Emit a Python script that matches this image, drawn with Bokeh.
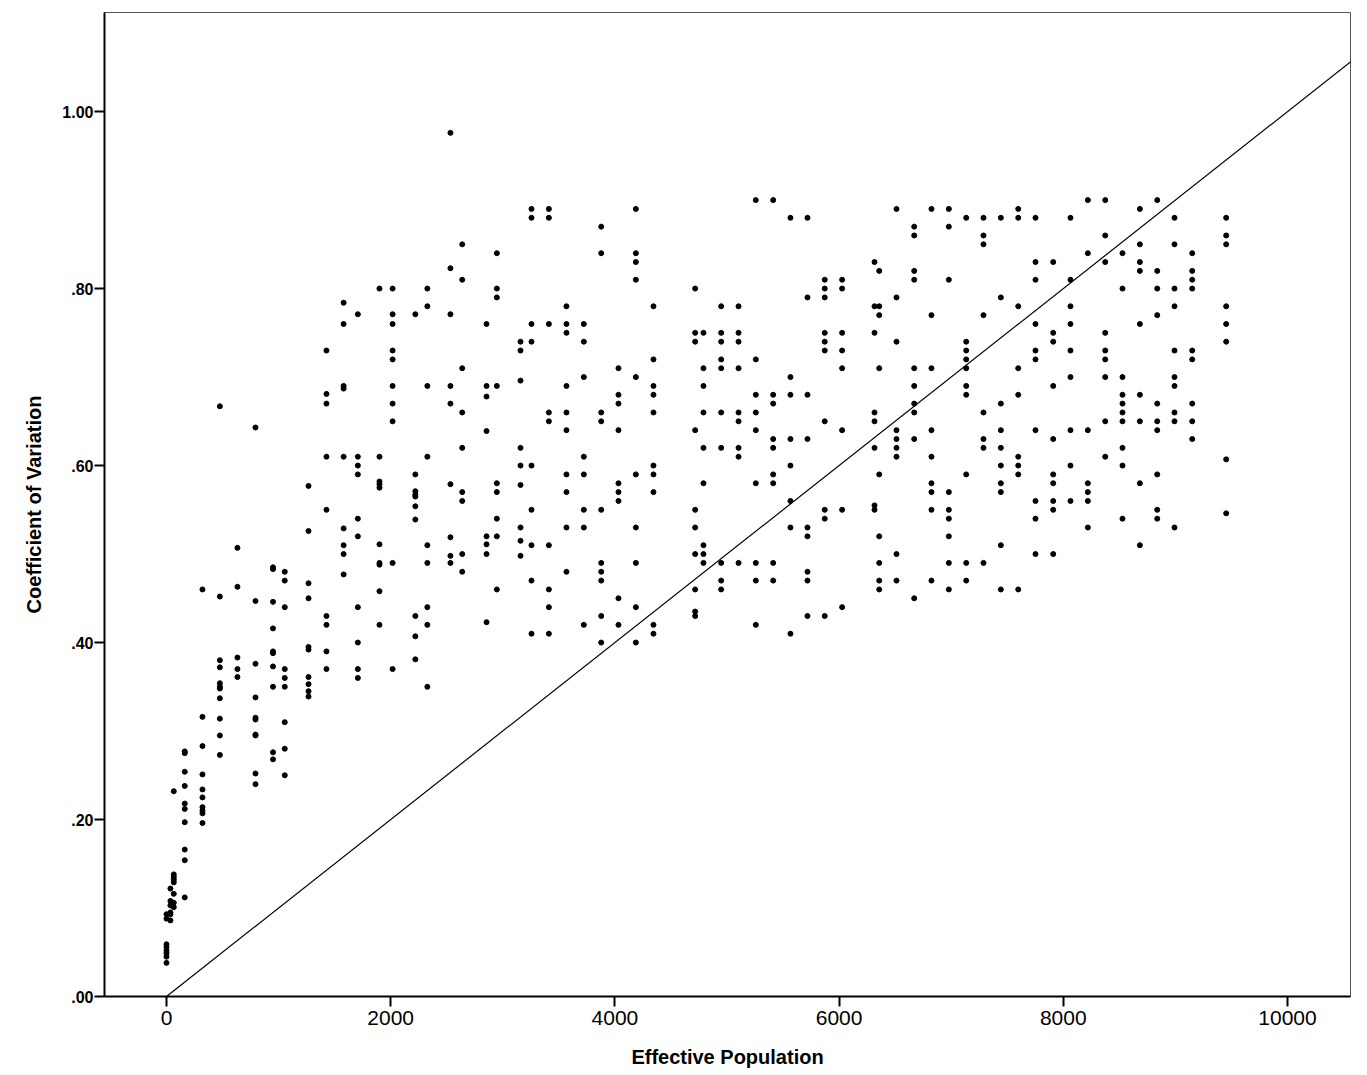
import numpy as np
from bokeh.plotting import figure
from bokeh.models import Range1d, FixedTicker, CustomJSTickFormatter
from bokeh.embed import file_html
from bokeh.resources import INLINE

# ===== DATA (one entry per column of dots) =====
pop_columns = [0, 35, 65, 163, 321, 476, 633, 794, 950, 1055,
               1267, 1427, 1580, 1707, 1900, 2017, 2220, 2327, 2533, 2638,
               2855, 2947, 3158, 3256, 3411, 3568, 3723, 3878, 4032, 4187,
               4344, 4716, 4790, 4948, 5103, 5257, 5412, 5566, 5718, 5872,
               6027, 6316, 6358, 6512, 6670, 6824, 6979, 7134, 7288, 7443,
               7598, 7752, 7910, 8064, 8219, 8374, 8528, 8683, 8838, 8992,
               9150, 9453]

cv_columns = [
    [.038, .045, .049, .052, .056, .059, .088, .093],
    [.122, .108, .103, .095, .093, .086],
    [.232, .138, .135, .132, .129, .116, .106, .101],
    [.277, .275, .254, .238, .218, .212, .197, .166, .154, .112],
    [.460, .316, .283, .251, .234, .225, .214, .210, .207, .196],
    [.667, .452, .380, .372, .354, .350, .348, .337, .314, .295, .273],
    [.507, .463, .383, .370, .361],
    [.643, .447, .376, .338, .315, .313, .296, .295, .252, .240],
    [.485, .483, .446, .416, .390, .388, .373, .350, .276, .268],
    [.480, .470, .440, .370, .360, .350, .310, .280, .250],
    [.577, .526, .467, .450, .395, .392, .361, .353, .345, .339],
    [.730, .681, .670, .610, .550, .430, .420, .390, .370],
    [.784, .760, .690, .687, .610, .529, .510, .500, .477],
    [.771, .610, .600, .590, .540, .520, .440, .400, .370, .360],
    [.800, .610, .582, .579, .575, .511, .490, .488, .458, .420],
    [.800, .771, .760, .730, .720, .690, .670, .650, .490, .370],
    [.771, .590, .571, .567, .565, .554, .539, .430, .407, .381],
    [.800, .780, .690, .610, .510, .490, .440, .420, .350],
    [.976, .823, .771, .690, .670, .579, .519, .498, .490],
    [.850, .810, .710, .660, .620, .570, .560, .500, .480],
    [.760, .690, .678, .639, .520, .511, .500, .423],
    [.840, .800, .790, .690, .580, .570, .540, .520, .460],
    [.740, .730, .696, .620, .600, .578, .530, .515, .498],
    [.890, .880, .760, .740, .600, .550, .510, .470, .410],
    [.89, .88, .76, .66, .65, .51, .46, .44, .41],
    [.78, .76, .75, .69, .66, .64, .59, .57, .53, .48],
    [.76, .74, .70, .61, .59, .55, .53, .42],
    [.87, .84, .66, .65, .55, .49, .48, .47, .43, .40],
    [.71, .68, .67, .64, .58, .57, .56, .45, .42],
    [.89, .84, .83, .81, .70, .59, .53, .49, .44, .40],
    [.78, .72, .69, .68, .66, .60, .59, .57, .42, .41],
    [.80, .75, .74, .64, .55, .53, .50, .46, .435, .43],
    [.75, .71, .69, .66, .62, .58, .51, .50, .49],
    [.78, .75, .74, .72, .71, .66, .62, .49, .47, .46],
    [.78, .75, .74, .71, .66, .65, .62, .61, .49],
    [.90, .72, .68, .66, .64, .58, .49, .47, .42],
    [.90, .68, .67, .63, .62, .59, .58, .49, .47],
    [.88, .70, .68, .63, .60, .56, .53, .41],
    [.88, .79, .68, .63, .53, .52, .48, .47, .43],
    [.81, .80, .79, .75, .74, .73, .65, .55, .54, .43],
    [.81, .80, .75, .73, .71, .64, .55, .44],
    [.83, .78, .75, .66, .65, .62, .555, .55],
    [.82, .78, .77, .71, .59, .52, .49, .47, .46],
    [.89, .79, .74, .64, .63, .62, .61, .50, .47],
    [.87, .86, .82, .81, .71, .69, .67, .66, .63, .45],
    [.89, .77, .71, .64, .61, .58, .57, .55, .47],
    [.89, .87, .81, .57, .55, .54, .52, .49, .46],
    [.88, .74, .73, .72, .71, .69, .68, .59, .49, .47],
    [.88, .86, .85, .77, .66, .63, .62, .49],
    [.88, .79, .67, .64, .62, .60, .58, .57, .51, .46],
    [.89, .88, .78, .71, .68, .61, .60, .59, .46],
    [.88, .83, .81, .76, .73, .72, .64, .56, .54, .50],
    [.83, .75, .74, .69, .63, .59, .58, .56, .55, .50],
    [.88, .81, .78, .76, .73, .70, .64, .60, .56],
    [.90, .84, .64, .58, .57, .56, .53],
    [.90, .86, .83, .75, .73, .72, .70, .65, .61],
    [.84, .80, .70, .68, .67, .66, .65, .62, .60, .54],
    [.89, .85, .83, .82, .76, .68, .65, .58, .51],
    [.90, .82, .80, .77, .67, .65, .64, .59, .55, .54],
    [.88, .85, .80, .78, .73, .70, .69, .66, .65, .53],
    [.84, .82, .81, .80, .73, .72, .67, .65, .63],
    [.88, .86, .85, .78, .76, .74, .607, .546],
]

# reference line drawn in the chart
fit_x = [0, 10600]
fit_y = [0, 1.06]

x_ticks = [0, 2000, 4000, 6000, 8000, 10000]
y_ticks = [0.0, 0.2, 0.4, 0.6, 0.8, 1.0]

# flatten the columns
pop = []
cv = []
for xc, ys in zip(pop_columns, cv_columns):
    for yv in ys:
        pop.append(xc)
        cv.append(yv)

# ===== PLOT ==========================================
p = figure(width=1359, height=1070,
           output_backend="svg", toolbar_location=None,
           x_range=Range1d(-553, 10562), y_range=Range1d(0, 1.112),
           min_border_left=104, min_border_right=9,
           min_border_top=12, min_border_bottom=74,
           x_axis_label="Effective Population",
           y_axis_label="Coefficient of Variation")

p.background_fill_color = "white"
p.border_fill_color = "white"
p.outline_line_color = "#555555"
p.outline_line_width = 1
p.xgrid.visible = False
p.ygrid.visible = False

p.line(fit_x, fit_y, line_color="black", line_width=1.2)
p.scatter(pop, cv, size=5, color="black")

for ax in (p.xaxis[0], p.yaxis[0]):
    ax.axis_line_color = "black"
    ax.axis_line_width = 2
    ax.major_tick_line_color = "black"
    ax.major_tick_line_width = 2
    ax.major_tick_in = 0
    ax.major_tick_out = 10
    ax.minor_tick_line_color = None
    ax.major_label_text_color = "black"
    ax.axis_label_text_color = "black"
    ax.axis_label_text_font = "Liberation Sans"
    ax.axis_label_text_font_style = "bold"
    ax.axis_label_text_font_size = "20px"
    ax.major_label_text_font = "Liberation Sans"

p.xaxis.ticker = FixedTicker(ticks=x_ticks)
p.xaxis.major_label_text_font_size = "21px"
p.xaxis.major_label_standoff = 4
p.xaxis.axis_label_standoff = 18

p.yaxis.ticker = FixedTicker(ticks=y_ticks)
p.yaxis.formatter = CustomJSTickFormatter(
    code="return tick.toFixed(2).replace(/^0/, '');")
p.yaxis.major_label_text_font_size = "16px"
p.yaxis.major_label_text_font_style = "bold"
p.yaxis.major_label_standoff = 1
p.yaxis.axis_label_standoff = 14

open("out.html", "w").write(file_html(p, INLINE))
